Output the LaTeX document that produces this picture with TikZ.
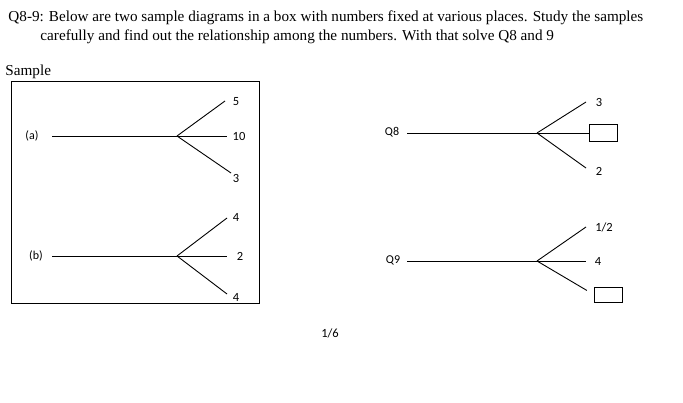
\documentclass[tikz,border=0pt]{standalone}
\usepackage{fontspec}
\setmainfont{Liberation Serif}
\newfontfamily\lblfont{Carlito}
\usetikzlibrary{positioning}

\tikzset{
  num/.style={font=\lblfont\fontsize{12.5}{14}\selectfont, inner sep=1pt},
  tag/.style={font=\lblfont\fontsize{12}{14}\selectfont, inner sep=1pt},
  blank/.style={draw, semithick, minimum width=28pt, minimum height=17pt, inner sep=0pt},
  txt/.style={font=\fontsize{15.2}{18}\selectfont, anchor=base west, inner sep=0pt},
}

\begin{document}
\begin{tikzpicture}[x=1pt,y=-1pt,line width=0.9pt]
    \useasboundingbox (0,0) rectangle (683,403);

    \node[txt] (head1) at (8,22)  {Q8-9: Below are two sample diagrams in a box with numbers fixed at various places. Study the samples};
    \node[txt] (head2) at (40,41) {carefully and find out the relationship among the numbers. With that solve Q8 and 9};
    \node[txt] (smp)   at (5,76)  {Sample};

    % sample box
    \draw (11,81) rectangle (259,303);

    % sample (a)
    \node[tag] (la)  at (32,136)  {(a)};
    \coordinate (ja) at (177,136);
    \node[num] (a1)  at (236,102) {5};
    \node[num] (a2)  at (239,136) {10};
    \node[num] (a3)  at (236,178) {3};
    \draw (52,136) -- (ja);
    \draw (ja) -- (225,101);
    \draw (ja) -- (227,136);
    \draw (ja) -- (231,173);

    % sample (b)
    \node[tag] (lb)  at (36,256)  {(b)};
    \coordinate (jb) at (177,256);
    \node[num] (b1)  at (236,217) {4};
    \node[num] (b2)  at (240,256) {2};
    \node[num] (b3)  at (236,297) {4};
    \draw (52,256) -- (jb);
    \draw (jb) -- (227,218);
    \draw (jb) -- (227,256);
    \draw (jb) -- (227,294);

    % Q8
    \node[tag] (lq8) at (392,132) {Q8};
    \coordinate (jq8) at (537,133);
    \node[num] (c1)  at (599,102) {3};
    \node[blank] (c2) at (603,133) {};
    \node[num] (c3)  at (599,171) {2};
    \draw (407,133) -- (jq8);
    \draw (jq8) -- (586,102);
    \draw (jq8) -- (c2.west);
    \draw (jq8) -- (586,168);

    % Q9
    \node[tag] (lq9) at (393,260) {Q9};
    \coordinate (jq9) at (537,261);
    \node[num] (d1)  at (604,227) {1/2};
    \node[num] (d2)  at (598,261) {4};
    \node[blank, minimum height=15pt] (d3) at (608,294.5) {};
    \draw (407,261) -- (jq9);
    \draw (jq9) -- (586,227);
    \draw (jq9) -- (586,261);
    \draw[shorten >=8pt] (jq9) -- (d3.west);

    \node[num] (pg)  at (330,333) {1/6};
\end{tikzpicture}
\end{document}
